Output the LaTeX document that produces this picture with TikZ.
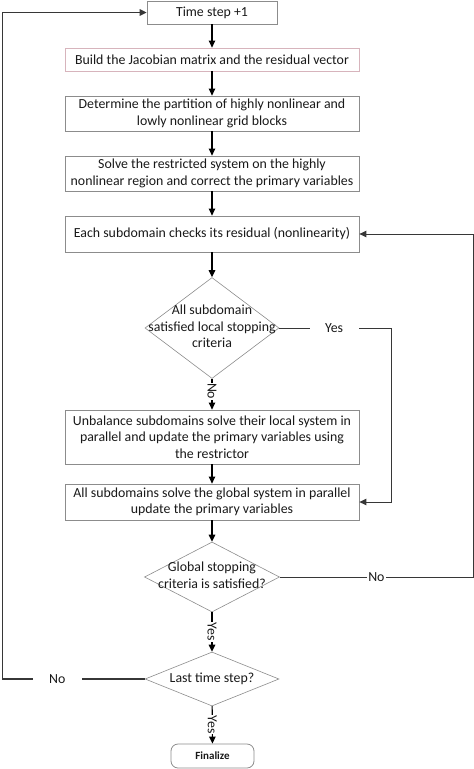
\documentclass[tikz,border=0pt]{standalone}
\usepackage{fontspec}
\setmainfont{Carlito}
\usetikzlibrary{shapes.geometric,arrows.meta}
\definecolor{boxline}{RGB}{140,140,140}
\definecolor{pinkline}{RGB}{215,180,188}
\definecolor{txt}{RGB}{25,25,25}
\definecolor{conn}{RGB}{55,55,55}
\newcommand\dtext[1]{\smash{\makebox[0pt]{\raisebox{-0.25em}{\begin{tabular}{@{}c@{}}#1\end{tabular}}}}}
\begin{document}
\begin{tikzpicture}[x=1pt,y=-1pt,
  font=\fontsize{13.85}{16.3}\selectfont, text=txt,
  procbox/.style={draw=boxline, line width=0.8pt, rectangle, minimum width=294pt, inner sep=0pt, align=center},
  decbox/.style={draw=boxline, line width=0.6pt, shape=diamond, inner sep=0pt},
  tip/.style={-{Triangle[length=7pt,width=6.5pt]}},
  flow/.style={draw=black, line width=1.1pt, tip},
  loopline/.style={draw=conn, line width=1pt, tip},
  vlabel/.style={rotate=-90, fill=white, inner sep=0.5pt},
  hlabel/.style={fill=white, inner sep=0pt, minimum width=49pt, minimum height=14pt}
]
\useasboundingbox (0,0) rectangle (474,769);

\node[procbox, minimum width=130pt, minimum height=23pt] (t) at (212,12.5) {Time step +1};
\node[procbox, draw=pinkline, minimum height=23pt] (b) at (212,59.5) {Build the Jacobian matrix and the residual vector};
\node[procbox, minimum height=35pt] (p) at (212,113.5) {Determine the partition of highly nonlinear and\\lowly nonlinear grid blocks};
\node[procbox, minimum height=35pt] (s) at (212,173.5) {Solve the restricted system on the highly\\nonlinear region and correct the primary variables};
\node[procbox, minimum height=36pt] (e) at (212,234) {Each subdomain checks its residual (nonlinearity)};
\node[decbox, minimum width=134pt, minimum height=101pt] (d1) at (212,328) {\dtext{All subdomain\\satisfied local stopping\\criteria}};
\node[procbox, minimum height=54pt] (u) at (212,437) {Unbalance subdomains solve their local system in\\parallel and update the primary variables using\\the restrictor};
\node[procbox, minimum height=36pt] (a) at (212,502) {All subdomains solve the global system in parallel\\update the primary variables};
\node[decbox, minimum width=135pt, minimum height=70pt] (d2) at (212,577) {\dtext{Global stopping\\criteria is satisfied?}};
\node[decbox, minimum width=134pt, minimum height=54pt] (d3) at (212,679) {\dtext{Last time step?}};
\node[draw=boxline, line width=0.8pt, rounded corners=7pt, minimum width=83pt, minimum height=24pt, inner sep=0pt,
      font=\fontsize{11}{13}\selectfont\bfseries] (f) at (212.5,756) {Finalize};

\draw[flow] (t) -- (b);
\draw[flow] (b) -- (p);
\draw[flow] (p) -- (s);
\draw[flow] (s) -- (e);
\draw[flow] (e) -- (d1);
\draw[flow] (d1) -- node[vlabel, pos=0.4] {No} (u);
\draw[flow] (u) -- (a);
\draw[flow] (a) -- (d2);
\draw[flow] (d2) -- node[vlabel] {Yes} (d3);
\draw[flow] (d3) -- node[vlabel] {Yes} (f);

\coordinate (yc) at (391,328);
\coordinate (nr) at (473,577);
\coordinate (nl) at (2.5,679);
\draw[loopline] (d1.east) -- node[hlabel, pos=0.49] {Yes} (yc) |- (a.east);
\draw[loopline] (d2.east) -- node[fill=white, inner sep=1pt] {No} (nr) |- (e.east);
\draw[loopline, line width=1.4pt] (d3.west) -- node[hlabel, pos=0.615] {No} (nl) |- (t.west);
\end{tikzpicture}
\end{document}
